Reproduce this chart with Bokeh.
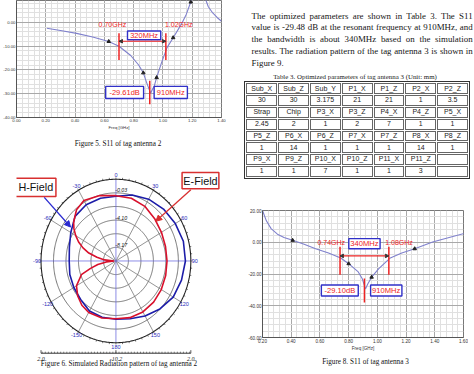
import numpy as np
from bokeh.plotting import figure
from bokeh.layouts import row, column
from bokeh.models import Div, FixedTicker, PrintfTickFormatter, Arrow, NormalHead, Range1d
from bokeh.embed import file_html
from bokeh.resources import INLINE
from bokeh.core.properties import value

# ------------------------------------------------------------------ data
# Figure 5 : S11 of tag antenna 2 (GHz, dB)
f5_freq_a = [0.207, 0.30, 0.41, 0.52, 0.63, 0.70, 0.78, 0.834, 0.866, 0.888, 0.905, 0.916,
             0.928, 0.942, 0.957, 0.99, 1.028, 1.07, 1.126, 1.16, 1.19, 1.205]
f5_s11_a = [-2.4, -3.4, -4.6, -6.1, -8.0, -10.0, -13.9, -17.9, -21.2, -25.2, -28.0, -29.8,
            -28.2, -26.5, -23.2, -17.0, -10.6, -6.4, -0.7, 3.5, 8.6, 11.0]
f5_freq_b = [1.285, 1.298, 1.31, 1.34, 1.37, 1.40]
f5_s11_b = [11.0, 8.6, 6.6, 4.0, 2.1, 0.5]
f5_mark_freq = [0.63, 0.866, 0.957, 1.07, 1.19]
f5_mark_s11 = [-8.0, -21.2, -23.2, -6.4, 8.6]
f5_xticks = [0.0, 0.2, 0.4, 0.6, 0.8, 1.0, 1.2, 1.4]
f5_yticks = [-40, -30, -20, -10, 0]
f5_low, f5_high, f5_res = 0.70, 1.02, 0.91
f5_labels = ["0.70GHz", "1.02GHz", "320MHz", "-29.61dB", "910MHz"]
f5_caption = "Figure 5. S11 of tag antenna 2"

# Figure 8 : S11 of tag antenna 3 (GHz, dB)
f8_freq = [0.20, 0.227, 0.26, 0.304, 0.35, 0.41, 0.49, 0.57, 0.66, 0.745, 0.80, 0.867, 0.895,
           0.917, 0.935, 0.96, 1.01, 1.09, 1.17, 1.26, 1.385, 1.50, 1.61]
f8_s11 = [20.0, 13.5, 8.6, 5.1, 3.0, 1.2, -1.3, -4.1, -6.8, -9.9, -13.5, -18.7, -23.0,
          -29.4, -26.0, -22.0, -16.6, -9.9, -6.8, -4.1, 0.2, 3.0, 5.7]
f8_mark_freq = [0.41, 0.80, 0.96, 1.26]
f8_mark_s11 = [1.2, -13.5, -22.0, -4.1]
f8_xticks = [0.2, 0.4, 0.6, 0.8, 1.0, 1.2, 1.4, 1.6]
f8_yticks = [-60, -40, -20, 0, 20]
f8_low, f8_high, f8_res = 0.74, 1.08, 0.91
f8_labels = ["0.74GHz", "1.08GHz", "340MHz", "-29.10dB", "910MHz"]
f8_caption = "Figure 8. S11 of tag antenna 3"

# Figure 6 : radiation pattern of tag antenna 2 (deg, dB)
h_angle = [0, 15, 30, 45, 60, 75, 90, 105, 120, 135, 150, 165, 180,
           -165, -150, -135, -120, -105, -90, -75, -60, -45, -30, -15]
h_db = [-0.54, 0.00, 0.45, 0.76, 0.97, 1.17, 1.12, 0.86, 0.57, -0.07, -0.71, -1.28, -1.50,
        -1.50, -1.57, -2.07, -2.28, -2.42, -2.59, -2.35, -1.71, -0.78, -0.50, -0.50]
e_angle = [0, 15, 30, 45, 60, 75, 90, 105, 120, 135, 150, 165, 180,
           -165, -150, -140, -130, -120, -110, -105, -100, -95, -90,
           -85, -80, -75, -70, -65, -60, -55, -50, -40, -30, -15]
e_db = [-0.45, -0.50, -0.78, -1.28, -1.64, -1.84, -1.88, -1.81, -1.67, -1.52, -1.42, -1.44, -1.57,
        -1.38, -1.33, -1.57, -2.07, -2.78, -4.21, -5.92, -7.20, -8.63, -9.91,
        -8.35, -7.06, -5.63, -4.49, -3.49, -2.64, -1.85, -1.21, -0.21, 0.22, -0.07]
pol_db_min, pol_db_max = -10.2, 2.0
pol_angle_ticks = [0, 30, 60, 90, 120, 150, 180, -150, -120, -90, -60, -30]
pol_caption = "Figure 6. Simulated Radiation pattern of tag antenna 2"

# Text and table (right column)
para_lines = [
    "The optimized parameters are shown in Table 3. The S11",
    "value is -29.48 dB at the resonant frequency at 910MHz, and",
    "the bandwidth is about 340MHz based on the simulation",
    "results. The radiation pattern of the tag antenna 3 is shown in",
    "Figure 9.",
]
table_title = "Table 3. Optimized parameters of tag antenna 3 (Unit: mm)"
table_rows = [
    ["Sub_X", "Sub_Z", "Sub_Y", "P1_X", "P1_Z", "P2_X", "P2_Z"],
    ["30", "30", "3.175", "21", "21", "1", "3.5"],
    ["Strap", "Chip", "P3_X", "P3_Z", "P4_X", "P4_Z", "P5_X"],
    ["2.45", "2", "1", "2", "7", "1", "1"],
    ["P5_Z", "P6_X", "P6_Z", "P7_X", "P7_Z", "P8_X", "P8_Z"],
    ["1", "14", "1", "1", "1", "14", "1"],
    ["P9_X", "P9_Z", "P10_X", "P10_Z", "P11_X", "P11_Z", ""],
    ["1", "1", "7", "1", "1", "3", ""],
]

# ------------------------------------------------------------------ styles
RED = "#ee2424"
BOX = "#3030c8"
CURVE = "#7f80cc"
SANS = value("Liberation Sans")
SERIF = value("Liberation Serif")


def s11_figure(w, h, xr, yr, xticks, yticks, ystep_minor, xstep_minor, borders, fs):
    p = figure(width=w, height=h, x_range=Range1d(*xr), y_range=Range1d(*yr),
               output_backend="svg", toolbar_location=None,
               min_border_left=borders[0], min_border_right=borders[1],
               min_border_top=borders[2], min_border_bottom=borders[3])
    xminor = list(np.round(np.arange(xticks[0], xticks[-1] + 1e-9, xstep_minor), 4))
    yminor = list(np.round(np.arange(yticks[0], yr[1], ystep_minor), 4))
    p.xaxis.ticker = FixedTicker(ticks=xticks, minor_ticks=xminor)
    p.yaxis.ticker = FixedTicker(ticks=yticks, minor_ticks=yminor)
    p.xaxis.formatter = PrintfTickFormatter(format="%.2f")
    p.yaxis.formatter = PrintfTickFormatter(format="%.2f")
    for ax in p.axis:
        ax.major_label_text_font = "Liberation Sans"
        ax.major_label_text_font_size = fs
        ax.major_label_text_color = "#333333"
        ax.major_label_standoff = 1
        ax.major_tick_out = 0
        ax.major_tick_in = 0
        ax.minor_tick_out = 0
        ax.minor_tick_in = 0
        ax.axis_line_color = "#555555"
    p.xaxis.axis_label = "Freq [GHz]"
    p.xaxis.axis_label_text_font = "Liberation Sans"
    p.xaxis.axis_label_text_font_size = fs
    p.xaxis.axis_label_text_font_style = "normal"
    p.xaxis.axis_label_text_color = "#333333"
    p.xaxis.axis_label_standoff = 0
    p.grid.grid_line_color = "#a9a9a9"
    p.grid.minor_grid_line_color = "#e0e0e0"
    p.outline_line_color = "#777777"
    return p


def annotate(p, low, high, res, labels, pos, fs_small, fs_box):
    (ytext, box_bw, yarrow, vline_bw, vline_res, box_min, box_res, xtext) = pos
    p.segment(x0=[low, high, res], x1=[low, high, res],
              y0=[vline_bw[0], vline_bw[0], vline_res[0]],
              y1=[vline_bw[1], vline_bw[1], vline_res[1]],
              line_color=RED, line_width=1.5)
    p.add_layout(Arrow(start=NormalHead(size=3.5, fill_color="#333333", line_color="#333333"),
                       end=NormalHead(size=3.5, fill_color="#333333", line_color="#333333"),
                       x_start=low, y_start=yarrow, x_end=high, y_end=yarrow,
                       line_color=RED, line_width=1.2))
    boxes = [box_bw, box_min, box_res]
    p.quad(left=[b[0] for b in boxes], right=[b[1] for b in boxes],
           bottom=[b[2] for b in boxes], top=[b[3] for b in boxes],
           fill_color="white", line_color=BOX, line_width=1.4)
    p.text(x=[xtext[0], xtext[1]], y=[ytext, ytext], text=[labels[0], labels[1]],
           text_font=SANS, text_font_size=fs_small, text_color=RED,
           text_align="center", text_baseline="middle")
    p.text(x=[(b[0] + b[1]) / 2 for b in boxes], y=[(b[2] + b[3]) / 2 for b in boxes],
           text=[labels[2], labels[3], labels[4]],
           text_font=SANS, text_font_size=fs_box, text_color=RED,
           text_align="center", text_baseline="middle")


def caption_div(text, w, h, pad_left, top):
    html = ('<div style="position:relative;width:%dpx;height:%dpx;overflow:hidden;">'
            '<div style="position:absolute;left:%spx;top:%spx;width:%spx;text-align:center;'
            "font-family:'Liberation Serif';font-size:7.2px;line-height:9px;color:#111;\">%s</div></div>"
            % (w, h, pad_left, top, w - pad_left, text))
    return Div(text=html, width=w, height=h)


# ------------------------------------------------------------------ Figure 5
p5 = s11_figure(226, 132, (0.0, 1.4), (-40, 9.25), f5_xticks, f5_yticks, 2, 0.04,
                (13, 5, 0, 12), "4.3px")
p5.line(f5_freq_a, f5_s11_a, line_color=CURVE, line_width=1.1)
p5.line(f5_freq_b, f5_s11_b, line_color=CURVE, line_width=1.1)
p5.scatter(f5_mark_freq, f5_mark_s11, marker="triangle", size=3.5, color="#222222")
annotate(p5, f5_low, f5_high, f5_res, f5_labels,
         (-0.7, (0.758, 0.985, -7.3, -3.6), -7.9, (-4.5, -15.8), (-24.5, -34.4),
          (0.609, 0.868, -32.0, -26.9), (0.94, 1.167, -32.0, -26.9), (0.655, 1.108)),
         "7px", "7.5px")
cap5 = caption_div(f5_caption, 226, 10, 0, 0.5)

# ------------------------------------------------------------------ Figure 8
p8 = s11_figure(232, 152, (0.2, 1.6), (-60, 20), f8_xticks, f8_yticks, 4, 0.04,
                (26, 5, 9, 12), "4.6px")
p8.line(f8_freq, f8_s11, line_color=CURVE, line_width=1.1)
p8.scatter(f8_mark_freq, f8_mark_s11, marker="triangle", size=3.5, color="#222222")
annotate(p8, f8_low, f8_high, f8_res, f8_labels,
         (0.0, (0.801, 1.019, -4.1, 2.3), -8.6, (-2.9, -20.5), (-22.8, -38.0),
          (0.61, 0.867, -33.9, -26.9), (0.953, 1.171, -33.9, -26.9), (0.679, 1.151)),
         "7px", "7.6px")
cap8 = caption_div(f8_caption, 232, 15, 17, 0)

# ------------------------------------------------------------------ Figure 6 (polar)
R_OUT = 85.5  # outer ring radius in frame units


def pol_xy(angles, dbs):
    r = (np.asarray(dbs, float) - pol_db_min) / (pol_db_max - pol_db_min) * R_OUT
    th = np.radians(np.asarray(angles, float))
    x = list(r * np.sin(th))
    y = list(r * np.cos(th))
    return x + x[:1], y + y[:1]


pp = figure(width=226, height=216, x_range=Range1d(-113.5, 120.5), y_range=Range1d(-112.5, 113.5),
            output_backend="svg", toolbar_location=None, min_border=0,
            x_axis_type=None, y_axis_type=None)
pp.grid.visible = False
pp.outline_line_color = None

th = np.linspace(0, 2 * np.pi, 361)
rings = [R_OUT * k / 6 for k in range(1, 6)]
pp.multi_line([list(r * np.sin(th)) for r in rings], [list(r * np.cos(th)) for r in rings],
              line_color="#555555", line_width=0.8)
spk = np.radians([30, 60, 120, 150, 210, 240, 300, 330])
pp.segment(x0=0, y0=0, x1=list(R_OUT * np.sin(spk)), y1=list(R_OUT * np.cos(spk)),
           line_color="#7a7a7a", line_width=0.8)
pp.segment(x0=[-R_OUT, 0], y0=[0, -R_OUT], x1=[R_OUT, 0], y1=[0, R_OUT],
           line_color="#7070e0", line_width=0.8)
pp.line(list(R_OUT * np.sin(th)), list(R_OUT * np.cos(th)), line_color="#222222", line_width=1.1)
tk = np.radians(np.arange(0, 360, 5))
pp.segment(x0=list(R_OUT * np.sin(tk)), y0=list(R_OUT * np.cos(tk)),
           x1=list((R_OUT + 1.8) * np.sin(tk)), y1=list((R_OUT + 1.8) * np.cos(tk)),
           line_color="#333333", line_width=0.7)

ta = np.radians(pol_angle_ticks)
pp.text(x=list(90 * np.sin(ta)), y=list(90 * np.cos(ta)), text=[str(a) for a in pol_angle_ticks],
        text_font=SANS, text_font_size="5.5px", text_color="#2a2ab8",
        text_align="center", text_baseline="middle")
lab_k = [1, 3, 5]
pp.text(x=[6] * 3, y=[R_OUT * k / 6 + 2.6 for k in lab_k],
        text=["%.2f" % (pol_db_min + k / 6 * (pol_db_max - pol_db_min)) for k in lab_k],
        text_font=SANS, text_font_size="5.3px", text_font_style="italic", text_color="#222222",
        text_align="center", text_baseline="middle")

hx, hy = pol_xy(h_angle, h_db)
ex, ey = pol_xy(e_angle, e_db)
pp.line(hx, hy, line_color="#1c1ca8", line_width=1.6)
pp.line(ex, ey, line_color="#d8102c", line_width=1.6)

# bottom scale 2.0 ... -10.2 ... 2.0
SCALE_Y = -96.5
sv = np.arange(pol_db_min, pol_db_max + 1e-9, 0.5)
sr = (sv - pol_db_min) / (pol_db_max - pol_db_min) * R_OUT
sx = list(-sr[::-1]) + list(sr[1:])
pp.segment(x0=[-R_OUT], y0=[SCALE_Y], x1=[R_OUT], y1=[SCALE_Y], line_color="#333333", line_width=1)
pp.segment(x0=sx, y0=SCALE_Y, x1=sx, y1=SCALE_Y + 1.6, line_color="#333333", line_width=0.6)
pp.segment(x0=[-R_OUT, 0, R_OUT], y0=SCALE_Y, x1=[-R_OUT, 0, R_OUT], y1=SCALE_Y + 3.2,
           line_color="#333333", line_width=0.8)
pp.text(x=[-R_OUT, 0, R_OUT], y=[SCALE_Y - 6.0] * 3,
        text=["%.1f" % pol_db_max, "%.1f" % pol_db_min, "%.1f" % pol_db_max],
        text_font=SERIF, text_font_size="6px", text_font_style="italic", text_color="#222222",
        text_align="center", text_baseline="middle")
pp.text(x=[3.5], y=[-107.8], text=[pol_caption], text_font=SERIF, text_font_size="7.2px",
        text_color="#111111", text_align="center", text_baseline="middle")

# legend call-outs
pp.quad(left=[-115, 75.5], right=[-68.5, 117.5], bottom=[67.5, 75.5], top=[86.5, 92.5],
        fill_color="white", line_color="#d83030", line_width=1.5)
pp.text(x=[-91.5, 96.5], y=[77, 84], text=["H-Field", "E-Field"], text_font=SANS,
        text_font_size="10.8px", text_color="#111111", text_align="center", text_baseline="middle")
pp.add_layout(Arrow(end=NormalHead(size=6, fill_color="#2a2ad0", line_color="#2a2ad0"),
                    x_start=-81.8, y_start=66.5, x_end=-51.8, y_end=35.5,
                    line_color="#2a2ad0", line_width=1.3))
pp.add_layout(Arrow(end=NormalHead(size=6, fill_color="#d83030", line_color="#d83030"),
                    x_start=85.5, y_start=74.5, x_end=45.5, y_end=41.5,
                    line_color="#d83030", line_width=1.3))


# ------------------------------------------------------------------ text + table block
def esc(s):
    return s.replace("&", "&amp;").replace("<", "&lt;")


lines_html = ""
for i, t in enumerate(para_lines):
    j = "justify" if i < len(para_lines) - 1 else "left"
    lines_html += f'<div style="text-align:{j};text-align-last:{j};">{esc(t)}</div>'

cell_css = ("width:30.8px;min-width:30.8px;max-width:30.8px;height:10.8px;box-sizing:border-box;"
            "padding:0;border:1px solid #666;text-align:center;vertical-align:middle;"
            "font-family:'Liberation Sans';font-size:7px;line-height:8.5px;color:#222;"
            "white-space:nowrap;overflow:hidden;")
rows_html = "".join(
    "<tr>" + "".join(f'<td style="{cell_css}">{esc(c)}</td>' for c in r) + "</tr>" for r in table_rows)

html = (
    '<div style="position:relative;width:232px;height:191px;overflow:hidden;background:#fff;">'
    '<div style="position:absolute;left:10.6px;top:5.6px;width:221px;font-family:\'Liberation Serif\';'
    f'font-size:8.9px;line-height:11.75px;color:#151515;">{lines_html}</div>'
    '<div style="position:absolute;left:0px;top:67.8px;width:228px;text-align:center;'
    "font-family:'Liberation Serif';font-size:6.9px;line-height:8px;color:#222;\">"
    f'{esc(table_title)}</div>'
    '<table style="position:absolute;left:3.4px;top:76.4px;border-collapse:separate;'
    f'border-spacing:1px;border:1.2px solid #333;margin:0;">{rows_html}</table>'
    '</div>'
)
top_right = Div(text=html, width=232, height=191)

layout = row(column(p5, cap5, pp, spacing=0), column(top_right, p8, cap8, spacing=0), spacing=0)
open("out.html", "w").write(file_html(layout, INLINE))
